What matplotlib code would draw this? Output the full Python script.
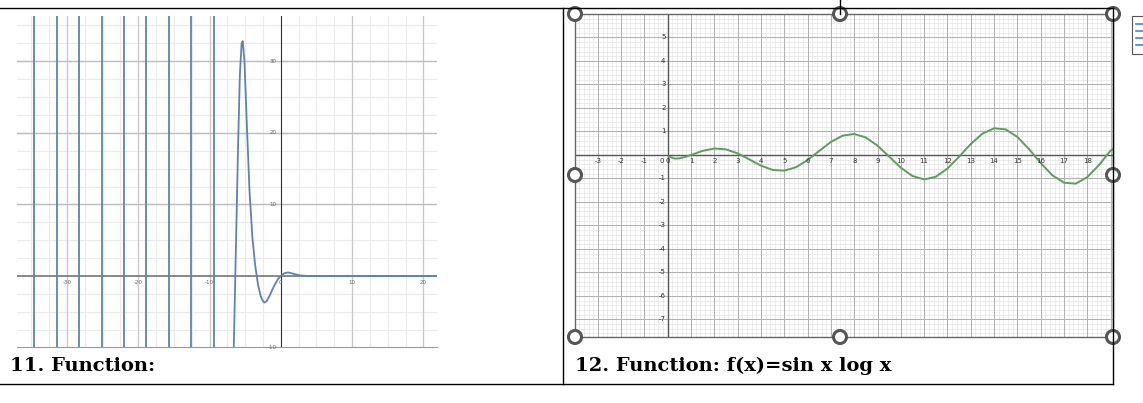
import matplotlib
matplotlib.use("Agg")
import matplotlib.pyplot as plt
from matplotlib.patches import Circle, Rectangle
from matplotlib.lines import Line2D
import numpy as np

# ---- left chart data ----
asymptotes_x = [-34.56, -31.42, -28.27, -25.13, -21.99, -18.85, -15.71, -12.57, -9.42]
left_x = [-6.6, -6.3, -6.0, -5.75, -5.5, -5.35, -5.1, -4.8, -4.4, -4.0, -3.6, -3.2, -2.8, -2.5,
          -2.3, -2.0, -1.6, -1.2, -0.8, -0.4, 0.0, 0.5, 1.0, 1.5, 2.0, 2.7, 3.5, 4.5, 21.9]
left_y = [-10, 4, 18, 28, 32.5, 32.8, 30, 22, 12, 5.5, 1.5, -1.2, -2.9, -3.5,
          -3.7, -3.5, -2.8, -1.9, -1.1, -0.4, 0.0, 0.4, 0.5, 0.4, 0.25, 0.1, 0.03, 0.0, 0.0]
left_xticks = [-30, -20, -10, 0, 10, 20]
left_yticks = [-10, 10, 20, 30]

# ---- right chart data: f(x) = sin x log x ----
right_x = [0.05, 0.3, 0.5, 0.75, 1, 1.5, 2, 2.5, 3, 3.5, 4, 4.5, 5, 5.5, 6, 6.5, 7, 7.5, 8, 8.5, 9,
           9.5, 10, 10.5, 11, 11.5, 12, 12.5, 13, 13.5, 14, 14.5, 15, 15.5, 16, 16.5, 17, 17.5,
           18, 18.5, 19, 19.1]
right_y = [-0.07, -0.155, -0.144, -0.085, 0.0, 0.176, 0.274, 0.238, 0.067, -0.191, -0.456, -0.638,
           -0.670, -0.522, -0.217, 0.175, 0.555, 0.821, 0.893, 0.742, 0.393, -0.073, -0.544,
           -0.898, -1.041, -0.928, -0.579, -0.072, 0.468, 0.907, 1.136, 1.086, 0.765, 0.246,
           -0.347, -0.867, -1.182, -1.222, -0.942, -0.428, 0.192, 0.25]
right_xticks = list(range(-3, 19))
right_yticks = [-7, -6, -5, -4, -3, -2, -1, 1, 2, 3, 4, 5]

W, H = 1143, 403
fig = plt.figure(figsize=(W / 100, H / 100), dpi=100)

def ax_at(x0, y0, x1, y1):
    return fig.add_axes([x0 / W, 1 - y1 / H, (x1 - x0) / W, (y1 - y0) / H])

# ---------- left ----------
ax = ax_at(17, 16, 437, 347)
ax.set_xlim(-37.0, 21.9)
ax.set_ylim(-9.9, 36.3)
for v in np.arange(-35, 22, 2.5):
    ax.axvline(v, color="#ebebeb", lw=0.8, zorder=0)
for v in np.arange(-7.5, 37, 2.5):
    ax.axhline(v, color="#ebebeb", lw=0.8, zorder=0)
for v in [-30, -20, -10, 10, 20]:
    ax.axvline(v, color="#c8c8c8", lw=0.9, zorder=0)
for v in [10, 20, 30]:
    ax.axhline(v, color="#bdbdbd", lw=1.0, zorder=0)
ax.axhline(0, color="#777777", lw=1.2, zorder=1)
ax.axvline(0, color="#333333", lw=0.8, zorder=1)
for a in asymptotes_x:
    ax.axvline(a, color="#5b83b8", lw=1.3, zorder=2)
ax.plot(left_x, left_y, color="#5b83b8", lw=1.3, zorder=3)
for t in left_xticks:
    ax.text(t, -0.6, str(t) if t else "0", fontsize=4, ha="center", va="top", color="#666")
for t in left_yticks:
    ax.text(-0.6, t, str(t), fontsize=4, ha="right", va="center", color="#666")
ax.set_xticks([]); ax.set_yticks([])
for s in ax.spines.values():
    s.set_visible(False)
ax.plot([0, 1], [0, 0], transform=ax.transAxes, color="#999", lw=0.8, clip_on=False)

# ---------- right ----------
ax2 = ax_at(575, 14, 1113, 337)
ax2.set_xlim(-3.98, 19.1)
ax2.set_ylim(-7.75, 6.0)
for v in np.arange(-3.8, 19.2, 0.2):
    ax2.axvline(v, color="#e4e4e4", lw=0.5, zorder=0)
for v in np.arange(-7.6, 6.0, 0.2):
    ax2.axhline(v, color="#e4e4e4", lw=0.5, zorder=0)
for v in range(-3, 20):
    ax2.axvline(v, color="#b0b0b0", lw=0.7, zorder=0)
for v in range(-7, 6):
    ax2.axhline(v, color="#b0b0b0", lw=0.7, zorder=0)
ax2.axhline(0, color="#555", lw=1.0, zorder=1)
ax2.axvline(0, color="#555", lw=1.0, zorder=1)
ax2.plot(right_x, right_y, color="#5c9e5c", lw=1.4, zorder=3)
for t in right_xticks:
    ax2.text(t, -0.12, str(t), fontsize=5, ha="center", va="top", color="#333")
ax2.text(-0.15, -0.12, "0", fontsize=5, ha="right", va="top", color="#333")
for t in right_yticks:
    ax2.text(-0.1, t, str(t), fontsize=5, ha="right", va="center", color="#333")
ax2.set_xticks([]); ax2.set_yticks([])
for s in ax2.spines.values():
    s.set_color("#666"); s.set_linewidth(1.0)

# ---------- page overlay ----------
ov = fig.add_axes([0, 0, 1, 1], zorder=10)
ov.set_xlim(0, W); ov.set_ylim(H, 0); ov.axis("off")
for (xs, ys) in [([0, 1113], [8, 8]), ([0, 1113], [384, 384]), ([563, 563], [8, 384]),
                 ([1113, 1113], [8, 384]), ([840, 840], [0, 14])]:
    ov.add_line(Line2D(xs, ys, color="black", lw=1.0))
for (cx, cy) in [(575, 14), (840, 14), (1113, 14), (575, 175), (1113, 175),
                 (575, 337), (840, 337), (1113, 337)]:
    ov.add_patch(Circle((cx, cy), 6.5, facecolor="white", edgecolor="#555", lw=2.2))
ov.add_patch(Rectangle((1132, 16), 14, 38, facecolor="white", edgecolor="#555", lw=0.8))
for yy in [24, 31, 38, 45]:
    ov.add_line(Line2D([1136, 1143], [yy, yy], color="#2f8fd8", lw=1.2))
ov.text(10, 366, "11. Function:", fontsize=14, fontweight="bold",
        family="DejaVu Serif", va="center", ha="left")
ov.text(575, 366, "12. Function: f(x)=sin x log x", fontsize=14, fontweight="bold",
        family="DejaVu Serif", va="center", ha="left")

fig.savefig("out.png", dpi=100, facecolor="white")
